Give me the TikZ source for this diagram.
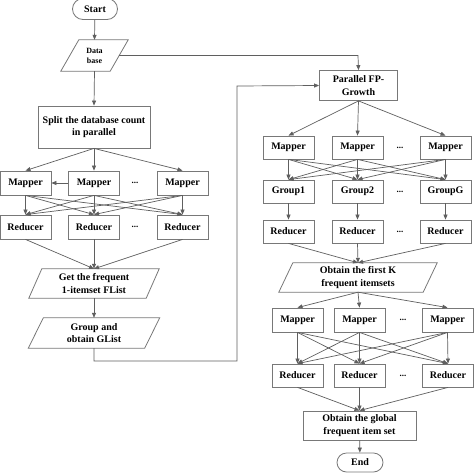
\documentclass[tikz,border=0pt]{standalone}
\usepackage{fontspec}
\setmainfont{Liberation Serif}
\usetikzlibrary{arrows.meta,shapes.misc}
\definecolor{ln}{RGB}{95,95,95}
\definecolor{bd}{RGB}{120,120,120}
\tikzset{
  box/.style={draw=bd,line width=0.8pt,fill=white,inner sep=0pt,align=center,font=\bfseries\fontsize{10}{12.5}\selectfont},
  cell/.style={box,minimum width=51pt,minimum height=24pt},
  term/.style={box,rounded rectangle,minimum width=45pt,minimum height=21pt},
  para/.style={inner sep=0pt,align=center,font=\bfseries\fontsize{10}{12.5}\selectfont},
  dots/.style={font=\bfseries\fontsize{9}{10}\selectfont},
  arr/.style={draw=ln,line width=0.7pt,-{Triangle[length=5pt,width=4pt]}},
  con/.style={draw=ln,line width=0.7pt},
}
\newcommand{\paraframe}[2]{\draw[draw=bd,line width=0.8pt] ([xshift=#2]#1.north west) -- ([xshift=#2]#1.north east) -- ([xshift=-#2]#1.south east) -- ([xshift=-#2]#1.south west) -- cycle;}
\begin{document}
\begin{tikzpicture}[x=1pt,y=-1pt]
\useasboundingbox[fill=white] (0,0) rectangle (474,474);
% ---------- left column ----------
\node[term] (start) at (95,9) {Start};
\node[para,minimum width=49pt,minimum height=31pt,font=\bfseries\fontsize{8}{10}\selectfont] (db) at (94.5,55.5) {Data\\base};
\paraframe{db}{9pt}
\node[box,minimum width=112pt,minimum height=42pt] (split) at (94,127) {Split the database count\\in parallel};
\node[cell] (m1) at (25.5,183) {Mapper};
\node[cell] (m2) at (94,183) {Mapper};
\node[cell] (m3) at (182.5,183) {Mapper};
\node[dots] (d1) at (135,183) {...};
\node[cell] (r1) at (25.5,227) {Reducer};
\node[cell] (r2) at (94,227) {Reducer};
\node[cell] (r3) at (182.5,227) {Reducer};
\node[dots] (d2) at (135,227) {...};
\node[para,minimum width=117pt,minimum height=29pt] (fl) at (94,283.5) {Get the frequent\\1-itemset FList};
\paraframe{fl}{6.5pt}
\node[para,minimum width=116pt,minimum height=30pt] (gl) at (94,333) {Group and\\obtain GList};
\paraframe{gl}{7.5pt}
\coordinate (c1) at (94,361);
\coordinate (c2) at (237,361);
\coordinate (c3) at (237,86);
\coordinate (c4) at (358,55.5);
% ---------- right column ----------
\node[box,minimum width=78pt,minimum height=30pt] (pfp) at (358.5,85.5) {Parallel FP-\\Growth};
\node[cell,minimum height=23pt] (pm1) at (288.5,147.5) {Mapper};
\node[cell,minimum height=23pt] (pm2) at (357.5,147.5) {Mapper};
\node[cell,minimum height=23pt] (pm3) at (445.5,147.5) {Mapper};
\node[dots] (d3) at (400,147.5) {...};
\node[cell,minimum height=23pt] (g1) at (288.5,191.5) {Group1};
\node[cell,minimum height=23pt] (g2) at (357.5,191.5) {Group2};
\node[cell,minimum height=23pt] (g3) at (445.5,191.5) {GroupG};
\node[dots] (d4) at (400,191.5) {...};
\node[cell,minimum height=23pt] (pr1) at (288.5,231.5) {Reducer};
\node[cell,minimum height=23pt] (pr2) at (357.5,231.5) {Reducer};
\node[cell,minimum height=23pt] (pr3) at (445.5,231.5) {Reducer};
\node[dots] (d5) at (400,231.5) {...};
\node[para,minimum width=144pt,minimum height=29pt] (fk) at (358,277.5) {Obtain the first K\\frequent itemsets};
\paraframe{fk}{7pt}
\node[cell] (qm1) at (297.5,320) {Mapper};
\node[cell] (qm2) at (359.5,320) {Mapper};
\node[cell] (qm3) at (447.5,320) {Mapper};
\node[dots] (d6) at (403,320) {...};
\node[cell,minimum height=23pt] (qr1) at (297.5,375.5) {Reducer};
\node[cell,minimum height=23pt] (qr2) at (359.5,375.5) {Reducer};
\node[cell,minimum height=23pt] (qr3) at (448,375.5) {Reducer};
\node[dots] (d7) at (403,375.5) {...};
\node[box,minimum width=113pt,minimum height=29pt] (glob) at (359.5,425.5) {Obtain the global\\frequent item set};
\node[term,minimum width=46pt,minimum height=19pt] (end) at (360,462.5) {End};
% ---------- connectors left ----------
\draw[arr] (start) -- (db.north);
\draw[arr] (db.south) -- (split.north);
\foreach \t in {m1,m2,m3} \draw[arr] (split.south) -- (\t.north);
\draw[arr] (m2.west) -- (m1.east);
\foreach \s in {m1,m2,m3} \foreach \t in {r1,r2,r3} \draw[arr] (\s.south) -- (\t.north);
\foreach \s in {r1,r2,r3} \draw[arr] (\s.south) -- (fl.north);
\draw[arr] (fl.south) -- (gl.north);
\draw[arr] (gl.south) -- (c1) -- (c2) -- (c3) -- (pfp.west);
\draw[arr] (db.east) -- (c4) -- (pfp.north);
% ---------- connectors right ----------
\foreach \t in {pm1,pm2,pm3} \draw[arr] (pfp.south) -- (\t.north);
\foreach \s in {pm1,pm2,pm3} \foreach \t in {g1,g2,g3} \draw[arr] (\s.south) -- (\t.north);
\draw[arr] (g1) -- (pr1);
\draw[arr] (g2) -- (pr2);
\draw[arr] (g3) -- (pr3);
\foreach \s in {pr1,pr2,pr3} \draw[arr] (\s.south) -- (fk.north);
\foreach \t in {qm1,qm2,qm3} \draw[arr] (fk.south) -- (\t.north);
\foreach \s in {qm1,qm2,qm3} \foreach \t in {qr1,qr2,qr3} \draw[arr] (\s.south) -- (\t.north);
\foreach \s in {qr1,qr2,qr3} \draw[arr] (\s.south) -- (glob.north);
\draw[arr] (glob) -- (end);
\end{tikzpicture}
\end{document}
